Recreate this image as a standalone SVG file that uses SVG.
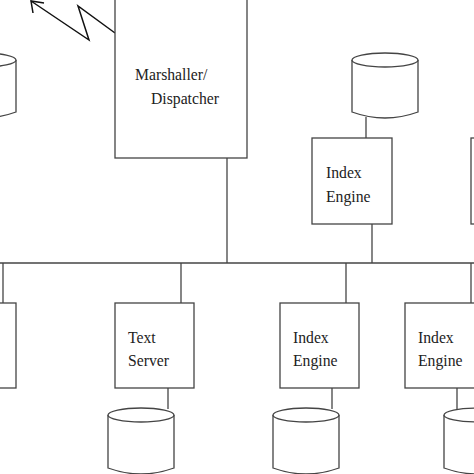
<svg xmlns="http://www.w3.org/2000/svg" width="474" height="474" viewBox="0 0 474 474">
<style>
.box{fill:#fff;stroke:#444;stroke-width:1.3}
.cyl{fill:#fff;stroke:#444;stroke-width:1.3}
.ln{fill:none;stroke:#444;stroke-width:1.3}
.zz{fill:none;stroke:#111;stroke-width:1.5}
text{font-family:"Liberation Serif","Times New Roman",serif;font-size:15.7px;fill:#222}
</style>
<rect width="474" height="474" fill="#fff"/>
<g id="connectors">
<line class="ln" x1="0" y1="263" x2="474" y2="263"/>
<line class="ln" x1="227" y1="158" x2="227" y2="263"/>
<line class="ln" x1="372" y1="224" x2="372" y2="263"/>
<line class="ln" x1="366" y1="117" x2="366" y2="138"/>
<line class="ln" x1="3" y1="263" x2="3" y2="303"/>
<line class="ln" x1="181" y1="263" x2="181" y2="303"/>
<line class="ln" x1="346" y1="263" x2="346" y2="303"/>
<line class="ln" x1="471" y1="263" x2="471" y2="303"/>
<line class="ln" x1="168" y1="388" x2="168" y2="409"/>
<line class="ln" x1="332" y1="388" x2="332" y2="409"/>
<line class="ln" x1="457" y1="388" x2="457" y2="409"/>
<polyline class="zz" points="115,33 78,6 89,40 31,1"/>
<polyline class="zz" points="33,13 31,1 44,3"/>
</g>
<g id="marshaller">
<rect class="box" x="115" y="-5" width="132" height="163"/>
<text x="135" y="80">Marshaller/</text>
<text x="151" y="104">Dispatcher</text>
</g>
<g id="db-left-top">
<path class="cyl" d="M-50,60 L-50,112 Q-17,124 16,112 L16,60"/>
<ellipse class="cyl" cx="-17" cy="60" rx="33" ry="7"/>
</g>
<g id="db-mid-top">
<path class="cyl" d="M352,60 L352,112 Q385,124 418,112 L418,60"/>
<ellipse class="cyl" cx="385" cy="60" rx="33" ry="7"/>
</g>
<g id="index-engine-top">
<rect class="box" x="312" y="138" width="80" height="86"/>
<text x="326" y="178">Index</text>
<text x="326" y="202">Engine</text>
</g>
<g id="box-right-top">
<rect class="box" x="471" y="138" width="80" height="86"/>
</g>
<g id="box-left-bottom">
<rect class="box" x="-64" y="303" width="80" height="85"/>
</g>
<g id="text-server">
<rect class="box" x="115" y="303" width="79" height="85"/>
<text x="128" y="343">Text</text>
<text x="128" y="366">Server</text>
</g>
<g id="index-engine-mid">
<rect class="box" x="280" y="303" width="79" height="85"/>
<text x="293" y="343">Index</text>
<text x="293" y="366">Engine</text>
</g>
<g id="index-engine-right">
<rect class="box" x="405" y="303" width="80" height="85"/>
<text x="418" y="343">Index</text>
<text x="418" y="366">Engine</text>
</g>
<g id="db-ts">
<path class="cyl" d="M108,415 L108,468 Q141,480 174,468 L174,415"/>
<ellipse class="cyl" cx="141" cy="415" rx="33" ry="7"/>
</g>
<g id="db-ie-mid">
<path class="cyl" d="M273,415 L273,468 Q306,480 339,468 L339,415"/>
<ellipse class="cyl" cx="306" cy="415" rx="33" ry="7"/>
</g>
<g id="db-ie-right">
<path class="cyl" d="M444,415 L444,468 Q477,480 510,468 L510,415"/>
<ellipse class="cyl" cx="477" cy="415" rx="33" ry="7"/>
</g>
</svg>
